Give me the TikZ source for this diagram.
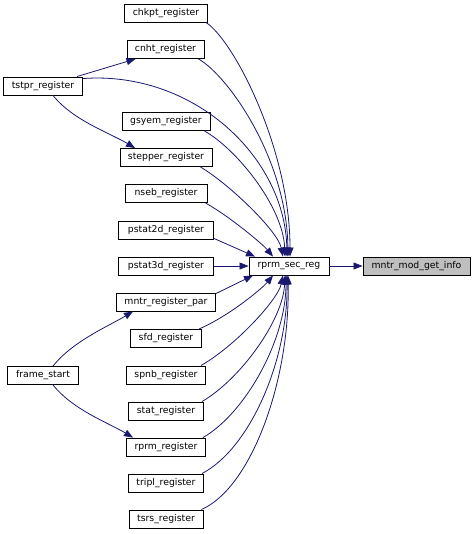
\documentclass[tikz,border=0pt]{standalone}
\usepackage{fontspec}
\setmainfont{DejaVu Sans}
\usetikzlibrary{arrows.meta,calc}
\definecolor{edgeblue}{HTML}{191970}
\definecolor{hlgray}{HTML}{BFBFBF}
\begin{document}
\begin{tikzpicture}[x=1pt,y=-1pt,
  box/.style={draw=black,line width=0.9pt,fill=white,minimum height=18pt,inner sep=0pt,font=\fontsize{9.3}{11}\selectfont},
  conn/.style={draw=edgeblue,line width=0.8pt,-{Triangle[length=9pt,width=7pt]}}]
\useasboundingbox (0,0) rectangle (474,534);
\node[box,minimum width=83pt] (chkpt) at (166,13) {chkpt\_register};
\node[box,minimum width=77pt] (cnht) at (165.5,49.5) {cnht\_register};
\node[box,minimum width=79pt] (tstpr) at (43,86) {tstpr\_register};
\node[box,minimum width=88pt] (gsyem) at (166,121.5) {gsyem\_register};
\node[box,minimum width=92pt] (stepper) at (166,157.5) {stepper\_register};
\node[box,minimum width=82pt] (nseb) at (166,193.5) {nseb\_register};
\node[box,minimum width=95pt] (pstatb) at (166,230) {pstat2d\_register};
\node[box,minimum width=95pt] (pstatc) at (166,266) {pstat3d\_register};
\node[box,minimum width=99pt] (mrp) at (166,302) {mntr\_register\_par};
\node[box,minimum width=71pt] (sfd) at (166,338.5) {sfd\_register};
\node[box,minimum width=79pt] (spnb) at (166,375) {spnb\_register};
\node[box,minimum width=75pt] (stat) at (166,411) {stat\_register};
\node[box,minimum width=79pt] (rprm) at (166,447) {rprm\_register};
\node[box,minimum width=75pt] (tripl) at (166,483) {tripl\_register};
\node[box,minimum width=74pt] (tsrs) at (166,519) {tsrs\_register};
\node[box,minimum width=71pt] (frame) at (43,375.5) {frame\_start};
\node[box,minimum width=80pt] (rs) at (289,266) {rprm\_sec\_reg};
\node[box,minimum width=107pt,fill=hlgray] (info) at (416.5,266) {mntr\_mod\_get\_info};
% edges into rprm_sec_reg (top)
\draw[conn] ([xshift=-2pt]chkpt.south east) .. controls +(28,18) and +(0,-107) .. ([xshift=1pt]rs.north);
\draw[conn] ([xshift=-6pt]cnht.south east) .. controls +(30,17) and +(-1,-97) .. ([xshift=-1pt]rs.north);
\draw[conn] ([yshift=-2pt]tstpr.north east) .. controls +(110,-8) and +(-2,-100) .. ([xshift=-2pt]rs.north);
\draw[conn] ([xshift=-6pt]gsyem.south east) .. controls +(32,18) and +(-2,-50) .. ([xshift=-4pt]rs.north);
\draw[conn] ([xshift=-12pt]stepper.south east) .. controls +(30,18) and +(-5,-25) .. ([xshift=-6pt]rs.north);
\draw[conn] ([xshift=-2pt]nseb.south east) .. controls +(25,14) and +(-10,-12) .. ([xshift=-16pt]rs.north);
\draw[conn] ([yshift=1pt]pstatb.south east) -- ([xshift=-34pt]rs.north);
\draw[conn] (pstatc.east) -- (rs.west);
% edges into rprm_sec_reg (bottom)
\draw[conn] ([yshift=-1pt]mrp.north east) -- ([xshift=-36pt]rs.south);
\draw[conn] ([xshift=-3pt]sfd.north east) .. controls +(32,-14) and +(-10,12) .. ([xshift=-16pt]rs.south);
\draw[conn] ([xshift=-5pt]spnb.north east) .. controls +(35,-20) and +(-5,24) .. ([xshift=-6pt]rs.south);
\draw[conn] ([xshift=-2pt]stat.north east) .. controls +(38,-22) and +(-2,45) .. ([xshift=-4pt]rs.south);
\draw[conn] ([xshift=-3pt]rprm.north east) .. controls +(42,-24) and +(0,65) .. ([xshift=-3pt]rs.south);
\draw[conn] ([xshift=-2pt]tripl.north east) .. controls +(48,-25) and +(1,85) .. ([xshift=-2pt]rs.south);
\draw[conn] ([xshift=-2pt]tsrs.north east) .. controls +(50,-22) and +(2,105) .. ([xshift=-1pt]rs.south);
% other edges
\draw[conn] ([xshift=-6pt]tstpr.north east) .. controls +(20,-6) and +(-20,6) .. ([xshift=-30pt]cnht.south);
\draw[conn] ([xshift=10pt]tstpr.south) .. controls +(20,25) and +(-25,-15) .. ([xshift=-31pt]stepper.north);
\draw[conn] ([xshift=10pt]frame.north) .. controls +(20,-25) and +(-25,15) .. ([xshift=-33pt]mrp.south);
\draw[conn] ([xshift=10pt]frame.south) .. controls +(20,25) and +(-25,-15) .. ([xshift=-33pt]rprm.north);
\draw[conn] (rs.east) -- (info.west);
\end{tikzpicture}
\end{document}
